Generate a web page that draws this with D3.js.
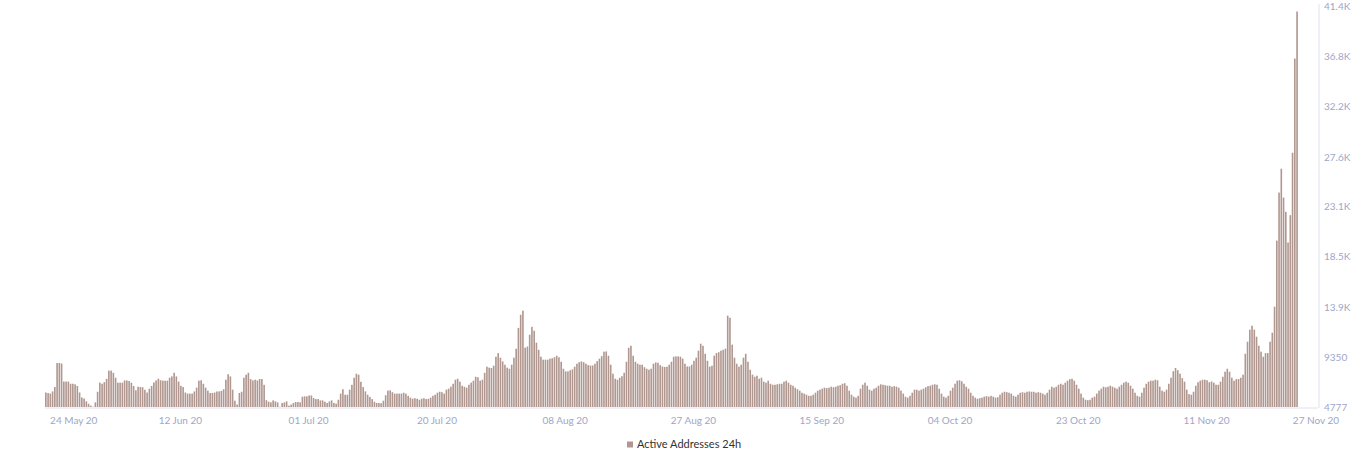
<!DOCTYPE html>
<html>
<head>
<meta charset="utf-8">
<script src="https://cdn.jsdelivr.net/npm/d3@7/dist/d3.min.js"></script>
<style>
  html, body { margin: 0; padding: 0; background: #fff; }
  svg { display: block; }
</style>
</head>
<body>
<div id="chart"></div>
<script>
// 8-hourly samples, first bar 23 May 2020 00:00
const seriesName = "Active Addresses 24h";
const seriesStart = "2020-05-23T00:00:00";
const stepHours = 8;
const activeAddresses = [
  6100, 6050, 6000, 6200, 6600, 8800, 8800, 8750, 7100, 7100,
  7100, 6900, 6900, 6850, 6700, 6100, 5650, 5550, 5300, 5070,
  4900, 4800, 5200, 6170, 7000, 6900, 7050, 7350, 8100, 8100,
  7900, 7450, 7000, 7000, 7000, 7200, 7200, 7150, 7000, 6700,
  6300, 6630, 6600, 6580, 6350, 6100, 6450, 6700, 7020, 7200,
  7360, 7220, 7180, 7180, 7180, 7450, 7570, 7900, 7570, 7100,
  6720, 6600, 6100, 6000, 6000, 6000, 6200, 6550, 7180, 7220,
  6900, 6550, 6270, 6060, 6060, 6100, 6200, 6200, 6250, 6400,
  7270, 7770, 7570, 6360, 5350, 5000, 6060, 6170, 7450, 7730,
  7900, 7330, 7200, 7270, 7200, 7330, 7330, 6800, 5400, 5260,
  5200, 5380, 5290, 5200, 4800, 5140, 5200, 5290, 4900, 5000,
  5140, 5230, 5230, 5200, 5720, 5750, 5750, 5830, 5830, 5600,
  5500, 5500, 5380, 5380, 5260, 5140, 5290, 5380, 5140, 5080,
  5440, 6000, 6400, 5900, 5900, 6360, 6800, 7450, 7820, 7730,
  7080, 6600, 6200, 5900, 5700, 5500, 5260, 5140, 5140, 5120,
  5350, 5850, 6270, 6300, 6130, 6000, 6000, 6000, 6000, 6080,
  6000, 5800, 5630, 5530, 5580, 5530, 5440, 5530, 5580, 5500,
  5530, 5630, 5800, 5900, 6080, 6170, 6130, 6000, 6360, 6450,
  6630, 6900, 7270, 7360, 7090, 6720, 6630, 6540, 6810, 7000,
  7180, 7540, 7500, 7180, 7270, 7900, 8460, 8370, 8340, 8550,
  9370, 9700, 9280, 8940, 8640, 8370, 8270, 8640, 9280, 10100,
  12000, 13200, 13580, 10200, 10300, 11380, 12100, 11740, 10650, 10000,
  9370, 9100, 9100, 9100, 9190, 9230, 9320, 9460, 9320, 8910,
  8270, 8030, 8030, 8130, 8220, 8460, 8730, 8870, 8940, 8870,
  8730, 8600, 8570, 8570, 8730, 8960, 9190, 9420, 9830, 9850,
  9460, 8640, 7820, 7360, 7270, 7450, 7590, 7900, 8910, 10190,
  10370, 9460, 8910, 8730, 8640, 8640, 8410, 8270, 8180, 8270,
  8730, 8850, 8820, 8600, 8480, 8430, 8460, 8640, 8910, 9370,
  9400, 9400, 9370, 9190, 8730, 8480, 8480, 8640, 9000, 9280,
  9920, 10560, 10370, 9640, 9000, 8460, 8550, 9460, 9700, 9780,
  9920, 10000, 10100, 13120, 12930, 10470, 9280, 8730, 8460, 8640,
  9280, 9640, 8910, 8180, 7730, 7540, 7630, 7360, 7450, 7090,
  7000, 7180, 6900, 6810, 6810, 6850, 6900, 6900, 7090, 7180,
  7000, 6810, 6720, 6540, 6400, 6270, 6080, 6000, 5900, 5800,
  5800, 5900, 6080, 6270, 6360, 6450, 6540, 6500, 6540, 6630,
  6580, 6630, 6720, 6770, 6900, 6950, 6720, 6270, 5900, 5720,
  5630, 5800, 6450, 6810, 7000, 6720, 6360, 6270, 6450, 6540,
  6720, 6850, 6810, 6770, 6720, 6720, 6630, 6680, 6630, 6540,
  6270, 6000, 5720, 5630, 5800, 6080, 6360, 6360, 6270, 6360,
  6450, 6580, 6680, 6720, 6810, 6850, 6810, 6450, 6000, 5720,
  5630, 5800, 6270, 6540, 6900, 7180, 7220, 7130, 6900, 6630,
  6450, 6080, 5800, 5630, 5530, 5580, 5630, 5720, 5770, 5720,
  5800, 5720, 5630, 5670, 5900, 6080, 6170, 6130, 6080, 6000,
  5800, 5720, 5900, 6080, 6130, 6080, 6170, 6200, 6170, 6170,
  6080, 6130, 6080, 6000, 5900, 6080, 6360, 6630, 6540, 6630,
  6810, 6900, 6810, 7000, 7180, 7320, 7360, 7180, 6810, 6450,
  6000, 5630, 5440, 5400, 5440, 5630, 5720, 6000, 6270, 6450,
  6630, 6580, 6630, 6720, 6630, 6540, 6450, 6630, 6810, 7000,
  7090, 7000, 6720, 6450, 6080, 5800, 5720, 6080, 6540, 6900,
  7090, 7180, 7180, 7270, 7220, 6630, 6270, 6170, 6360, 6900,
  7450, 8050, 8340, 8140, 7820, 7410, 7090, 6360, 5950, 5900,
  6170, 6720, 7040, 7180, 7270, 7270, 7220, 7040, 7110, 7000,
  6810, 6810, 7090, 7540, 8000, 8270, 8000, 7450, 7180, 7320,
  7330, 7450, 7730, 9640, 10740, 11840, 12200, 11840, 11200, 10370,
  9830, 9370, 9700, 9700, 10740, 11560, 13940, 19970, 24360, 26540,
  23900, 22600, 19800, 22300, 28000, 36600, 40900
];

// axes
const xDomain = ["2020-05-22T21:00:00", "2020-11-27T14:00:00"];
const xTickDates = ["2020-05-24", "2020-06-12", "2020-07-01", "2020-07-20", "2020-08-08",
  "2020-08-27", "2020-09-15", "2020-10-04", "2020-10-23", "2020-11-11"];
const xEndLabel = "27 Nov 20";
const yDomain = [4777, 41400];
const yTickValues = [4777, 9350, 13900, 18500, 23100, 27600, 32200, 36800, 41400];
const yTickLabels = ["4777", "9350", "13.9K", "18.5K", "23.1K", "27.6K", "32.2K", "36.8K", "41.4K"];

const width = 1366, height = 462;
const plotLeft = 44, plotRight = 1318, plotTop = 6, plotBottom = 407;
const barColor = "#b09790";
const axisColor = "#dfe2f0";
const tickColor = "#9ea6c9";
const font = "Lato, 'Open Sans', sans-serif";

const parse = d3.isoParse;
const t0 = parse(seriesStart);
const data = activeAddresses.map((v, i) => ({
  date: new Date(t0.getTime() + i * stepHours * 3600 * 1000),
  value: v
}));

const x = d3.scaleTime().domain(xDomain.map(parse)).range([plotLeft, plotRight]);
const y = d3.scaleLinear().domain(yDomain).range([plotBottom, plotTop]);

const step = x(data[1].date) - x(data[0].date);
const barW = step * 0.72;

const svg = d3.select("#chart").append("svg")
  .attr("width", width)
  .attr("height", height)
  .style("font-family", font)
  .style("background", "#fff");

// bars
svg.append("g")
  .selectAll("rect")
  .data(data)
  .join("rect")
  .attr("x", d => x(d.date) - barW / 2 + 1)
  .attr("y", d => y(d.value))
  .attr("width", barW)
  .attr("height", d => Math.max(0, y(yDomain[0]) - y(d.value)))
  .attr("fill", barColor);

// x axis
const xAxis = svg.append("g")
  .attr("transform", `translate(0,${plotBottom + 1})`)
  .call(d3.axisBottom(x)
    .tickValues(xTickDates.map(parse))
    .tickFormat(d3.timeFormat("%d %b %y"))
    .tickSize(0)
    .tickPadding(9));
xAxis.select(".domain")
  .attr("d", `M${plotLeft + 1},0H${plotRight}`)
  .attr("stroke", axisColor);
xAxis.selectAll("text")
  .attr("fill", tickColor)
  .attr("font-size", "10px")
  .attr("font-family", font);
// first label sits inside the plot
xAxis.select(".tick text").attr("text-anchor", "start").attr("dx", "-2");

xAxis.append("text")
  .attr("x", plotRight - 2)
  .attr("y", 9)
  .attr("dy", "0.71em")
  .attr("text-anchor", "middle")
  .attr("fill", tickColor)
  .attr("font-size", "10px")
  .attr("font-family", font)
  .text(xEndLabel);

// y axis on the right
const yAxis = svg.append("g")
  .attr("transform", `translate(${plotRight + 1},0)`)
  .call(d3.axisRight(y)
    .tickValues(yTickValues)
    .tickFormat((d, i) => yTickLabels[i])
    .tickSize(0)
    .tickPadding(5));
yAxis.select(".domain")
  .attr("d", `M0,${plotTop - 2}V${plotBottom + 1}`)
  .attr("stroke", axisColor);
yAxis.selectAll("text")
  .attr("fill", tickColor)
  .attr("font-size", "10px")
  .attr("font-family", font);

// legend
const legend = svg.append("g").attr("transform", "translate(627,441.5)");
legend.append("rect")
  .attr("width", 6)
  .attr("height", 6)
  .attr("fill", barColor);
legend.append("text")
  .attr("x", 10)
  .attr("y", 3)
  .attr("dy", "0.35em")
  .attr("font-size", "11px")
  .attr("fill", "#333")
  .text(seriesName);
</script>
</body>
</html>
